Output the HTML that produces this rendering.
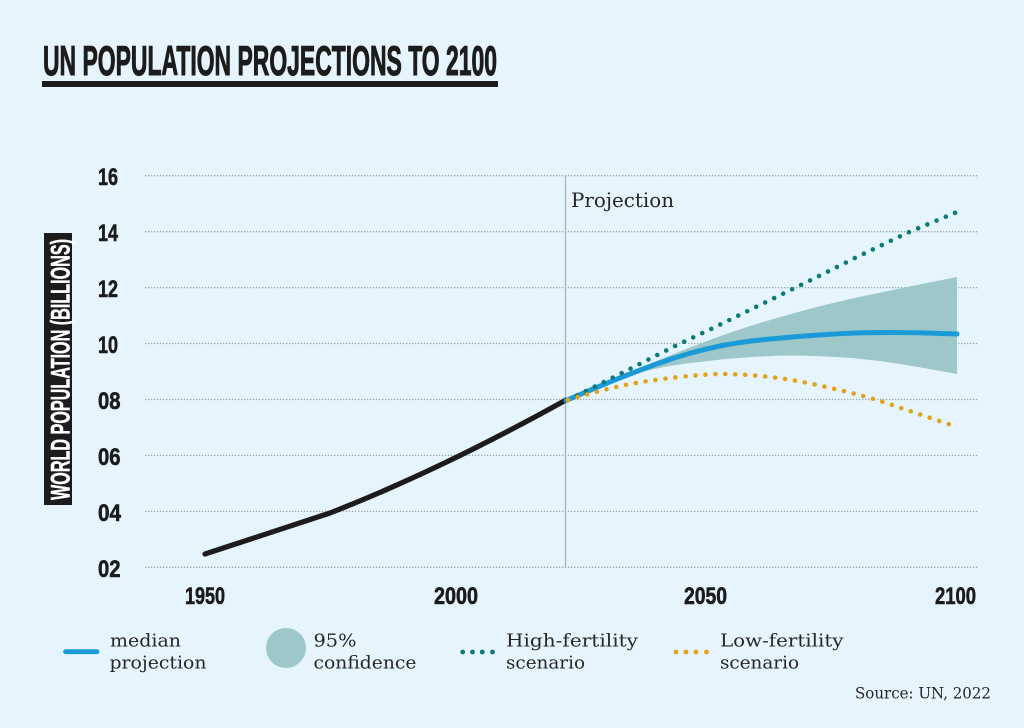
<!DOCTYPE html>
<html>
<head>
<meta charset="utf-8">
<style>
  html,body{margin:0;padding:0;background:#e6f4fd;}
  svg{display:block;}
  .cond{font-family:"Liberation Sans",sans-serif;font-weight:bold;}
  .serif{font-family:"DejaVu Serif","Liberation Serif",serif;fill:#262626;}
</style>
</head>
<body>
<svg width="1024" height="728" viewBox="0 0 1024 728" xmlns="http://www.w3.org/2000/svg">
  <rect x="0" y="0" width="1024" height="728" fill="#e6f4fd"/>

  <!-- Title -->
  <text class="cond" x="43" y="75" font-size="42" fill="#1c1c1c" stroke="#1c1c1c" stroke-width="1.1" textLength="454" lengthAdjust="spacingAndGlyphs">UN POPULATION PROJECTIONS TO 2100</text>
  <rect x="42" y="81" width="456" height="6" fill="#1c1c1c"/>

  <!-- Y axis title -->
  <rect x="44" y="233" width="28" height="272" fill="#1c1c1c"/>
  <text class="cond" transform="translate(69.5,500) rotate(-90)" x="0" y="0" font-size="27" fill="#ffffff" stroke="#ffffff" stroke-width="0.5" textLength="261" lengthAdjust="spacingAndGlyphs">WORLD POPULATION (BILLIONS)</text>

  <!-- Gridlines -->
  <g stroke="#9ba6ac" stroke-width="1.3" stroke-dasharray="1.3 1.7" fill="none">
    <line x1="145" y1="175.7" x2="978" y2="175.7"/>
    <line x1="145" y1="231.7" x2="978" y2="231.7"/>
    <line x1="145" y1="287.6" x2="978" y2="287.6"/>
    <line x1="145" y1="343.5" x2="978" y2="343.5"/>
    <line x1="145" y1="399.5" x2="978" y2="399.5"/>
    <line x1="145" y1="455.4" x2="978" y2="455.4"/>
    <line x1="145" y1="511.4" x2="978" y2="511.4"/>
    <line x1="145" y1="567.3" x2="978" y2="567.3"/>
  </g>

  <!-- Y tick labels -->
  <g class="cond" font-size="24" fill="#1c1c1c" stroke="#1c1c1c" stroke-width="0.6">
    <text x="98" y="185" textLength="20" lengthAdjust="spacingAndGlyphs">16</text>
    <text x="98" y="241" textLength="20" lengthAdjust="spacingAndGlyphs">14</text>
    <text x="98" y="297" textLength="20" lengthAdjust="spacingAndGlyphs">12</text>
    <text x="98" y="353" textLength="20" lengthAdjust="spacingAndGlyphs">10</text>
    <text x="98" y="409" textLength="22.5" lengthAdjust="spacingAndGlyphs">08</text>
    <text x="98" y="465" textLength="22.5" lengthAdjust="spacingAndGlyphs">06</text>
    <text x="98" y="521" textLength="23" lengthAdjust="spacingAndGlyphs">04</text>
    <text x="98" y="577" textLength="22.5" lengthAdjust="spacingAndGlyphs">02</text>
  </g>

  <!-- X tick labels -->
  <g class="cond" font-size="24" fill="#1c1c1c" stroke="#1c1c1c" stroke-width="0.6" text-anchor="middle">
    <text x="205" y="604" textLength="40" lengthAdjust="spacingAndGlyphs">1950</text>
    <text x="456" y="604" textLength="44" lengthAdjust="spacingAndGlyphs">2000</text>
    <text x="705.5" y="604" textLength="43" lengthAdjust="spacingAndGlyphs">2050</text>
    <text x="955.5" y="604" textLength="41" lengthAdjust="spacingAndGlyphs">2100</text>
  </g>

  <!-- Projection divider -->
  <line x1="565.5" y1="175.7" x2="565.5" y2="567.3" stroke="#a9b6bc" stroke-width="1.3"/>
  <text class="serif" x="571" y="207" font-size="20" textLength="103" lengthAdjust="spacingAndGlyphs">Projection</text>

  <!-- Confidence band -->
  <path d="M568,400 L600.5,385.5 Q633,371 653,362.5 Q673,354 690,347.5 Q707,341 723.5,335 Q740,329 765,321.5 Q790,314 815,307.5 Q840,301 873.5,294 Q907,287 932,282 L957,277 L957,374 L932,369.5 Q907,365 890,362.5 Q873,360 856.5,358.5 Q840,357 815,356 Q790,355 765,356.25 Q740,357.5 723.5,359.25 Q707,361 690,363 Q673,365 656.5,368.5 Q640,372 620,379.5 Q600,387 584,393.5 Z" fill="#9dc7c8"/>

  <!-- Historical line -->
  <path d="M205,554 L330,513 Q440,470 566,400" fill="none" stroke="#1c1c1c" stroke-width="5.2" stroke-linecap="round" stroke-linejoin="round"/>

  <!-- Median projection -->
  <path d="M566,400.5 L586.5,391.75 Q607,383 623.5,376.5 Q640,370 656.5,364 Q673,358 690,353.25 Q707,348.5 723.5,345.25 Q740,342 765,339.5 Q790,337 815,335.25 Q840,333.5 856.5,333 Q873,332.5 891.5,332.5 Q910,332.5 933.5,333.25 L957,334" fill="none" stroke="#1a9bd7" stroke-width="5" stroke-linecap="round" stroke-linejoin="round"/>

  <!-- High fertility -->
  <polyline points="568,400 620,374 673,347 713,328 760,305 807,282 857,257 907,233 957,212" fill="none" stroke="#0b7b7a" stroke-width="4.6" stroke-linecap="round" stroke-dasharray="0 10"/>

  <!-- Low fertility -->
  <path d="M568,400 L588,394.25 Q608,388.5 628,384.5 Q648,380.5 677.5,377.25 Q707,374 723.5,374 Q740,374 765,376.5 Q790,379 815,384.5 Q840,390 856.5,394.25 Q873,398.5 890,404.25 Q907,410 932,418.5 L957,427" fill="none" stroke="#e3a21a" stroke-width="4.6" stroke-linecap="round" stroke-dasharray="0 10"/>

  <!-- Legend -->
  <line x1="65.5" y1="651.7" x2="97" y2="651.7" stroke="#1a9bd7" stroke-width="4.8" stroke-linecap="round"/>
  <text class="serif" x="110" y="646.5" font-size="18" textLength="71" lengthAdjust="spacingAndGlyphs">median</text>
  <text class="serif" x="109.5" y="668.3" font-size="18" textLength="97" lengthAdjust="spacingAndGlyphs">projection</text>

  <circle cx="286" cy="648" r="20" fill="#9dc7c8"/>
  <text class="serif" x="313.5" y="646.5" font-size="18" textLength="43" lengthAdjust="spacingAndGlyphs">95%</text>
  <text class="serif" x="313.5" y="668.3" font-size="18" textLength="103" lengthAdjust="spacingAndGlyphs">confidence</text>

  <g fill="#0b7b7a">
    <circle cx="462.7" cy="652" r="2.4"/>
    <circle cx="472.5" cy="652" r="2.4"/>
    <circle cx="482.3" cy="652" r="2.4"/>
    <circle cx="492.5" cy="652" r="2.4"/>
  </g>
  <text class="serif" x="506" y="646.5" font-size="18" textLength="132" lengthAdjust="spacingAndGlyphs">High-fertility</text>
  <text class="serif" x="506" y="668.3" font-size="18" textLength="79" lengthAdjust="spacingAndGlyphs">scenario</text>

  <g fill="#e3a21a">
    <circle cx="676" cy="652" r="2.4"/>
    <circle cx="686" cy="652" r="2.4"/>
    <circle cx="696" cy="652" r="2.4"/>
    <circle cx="706.5" cy="652" r="2.4"/>
  </g>
  <text class="serif" x="720" y="646.5" font-size="18" textLength="123.5" lengthAdjust="spacingAndGlyphs">Low-fertility</text>
  <text class="serif" x="720" y="668.3" font-size="18" textLength="79" lengthAdjust="spacingAndGlyphs">scenario</text>

  <!-- Source -->
  <text class="serif" x="855" y="698.3" font-size="16" textLength="136" lengthAdjust="spacingAndGlyphs">Source: UN, 2022</text>
</svg>
</body>
</html>
